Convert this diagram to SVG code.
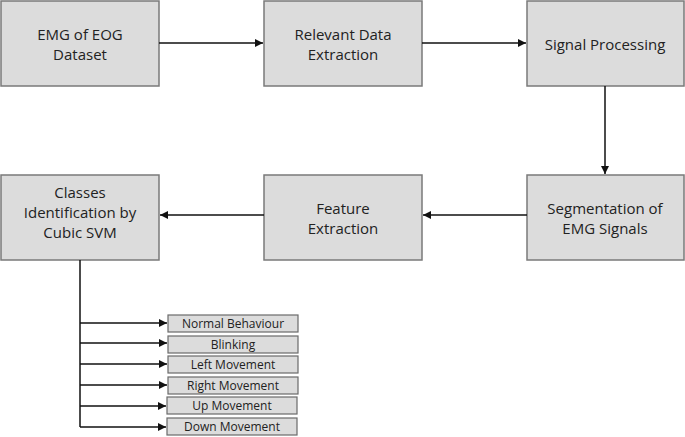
<svg xmlns="http://www.w3.org/2000/svg" width="685" height="437" viewBox="0 0 685 437">
<style>
.b{fill:#dcdcdc;stroke:#7a7a7a;stroke-width:1.5}
.s{fill:#dcdcdc;stroke:#6a6a6a;stroke-width:1.2}
.t{font-family:"Open Sans","Liberation Sans",sans-serif;font-size:15px;fill:#222;text-anchor:middle}
.u{font-family:"Open Sans","Liberation Sans",sans-serif;font-size:12px;fill:#222;text-anchor:middle}
.c{stroke:#111;stroke-width:1.5;fill:none}
</style>
<defs><marker id="a" viewBox="0 0 10 10" refX="10" refY="5" markerWidth="8" markerHeight="8" markerUnits="userSpaceOnUse" orient="auto"><path d="M0,0L10,5L0,10z" fill="#111"/></marker></defs>
<g id="n1"><rect class="b" x="1" y="1" width="158" height="85"/><text class="t" x="80" y="40">EMG of EOG</text><text class="t" x="80" y="60">Dataset</text></g>
<g id="n2"><rect class="b" x="264" y="1" width="158" height="85"/><text class="t" x="343" y="40">Relevant Data</text><text class="t" x="343" y="60">Extraction</text></g>
<g id="n3"><rect class="b" x="527" y="1" width="157" height="85"/><text class="t" x="605" y="50">Signal Processing</text></g>
<g id="n4"><rect class="b" x="527" y="175" width="157" height="85"/><text class="t" x="605" y="214">Segmentation of</text><text class="t" x="605" y="234">EMG Signals</text></g>
<g id="n5"><rect class="b" x="264" y="175" width="158" height="85"/><text class="t" x="343" y="214">Feature</text><text class="t" x="343" y="234">Extraction</text></g>
<g id="n6"><rect class="b" x="1" y="175" width="158" height="85"/><text class="t" x="80" y="198">Classes</text><text class="t" x="80" y="218">Identification by</text><text class="t" x="80" y="238">Cubic SVM</text></g>
<g id="l1"><rect class="s" x="168" y="315" width="130" height="17"/><text class="u" x="233" y="328">Normal Behaviour</text></g>
<g id="l2"><rect class="s" x="168" y="336" width="130" height="17"/><text class="u" x="233" y="349">Blinking</text></g>
<g id="l3"><rect class="s" x="168" y="356" width="130" height="17"/><text class="u" x="233" y="369">Left Movement</text></g>
<g id="l4"><rect class="s" x="168" y="377" width="130" height="17"/><text class="u" x="233" y="390">Right Movement</text></g>
<g id="l5"><rect class="s" x="167" y="397" width="130" height="17"/><text class="u" x="232" y="410">Up Movement</text></g>
<g id="l6"><rect class="s" x="167" y="418" width="130" height="17"/><text class="u" x="232" y="431">Down Movement</text></g>
<g id="connectors">
<line class="c" x1="159" y1="43" x2="263" y2="43" marker-end="url(#a)"/>
<line class="c" x1="422" y1="43" x2="526" y2="43" marker-end="url(#a)"/>
<line class="c" x1="605" y1="86" x2="605" y2="174" marker-end="url(#a)"/>
<line class="c" x1="527" y1="215" x2="423" y2="215" marker-end="url(#a)"/>
<line class="c" x1="264" y1="215" x2="160" y2="215" marker-end="url(#a)"/>
<line class="c" x1="80" y1="260" x2="80" y2="427"/>
<line class="c" x1="80" y1="323" x2="167" y2="323" marker-end="url(#a)"/>
<line class="c" x1="80" y1="343" x2="167" y2="343" marker-end="url(#a)"/>
<line class="c" x1="80" y1="364" x2="167" y2="364" marker-end="url(#a)"/>
<line class="c" x1="80" y1="385" x2="167" y2="385" marker-end="url(#a)"/>
<line class="c" x1="80" y1="406" x2="166" y2="406" marker-end="url(#a)"/>
<line class="c" x1="80" y1="427" x2="166" y2="427" marker-end="url(#a)"/>
</g>
</svg>
